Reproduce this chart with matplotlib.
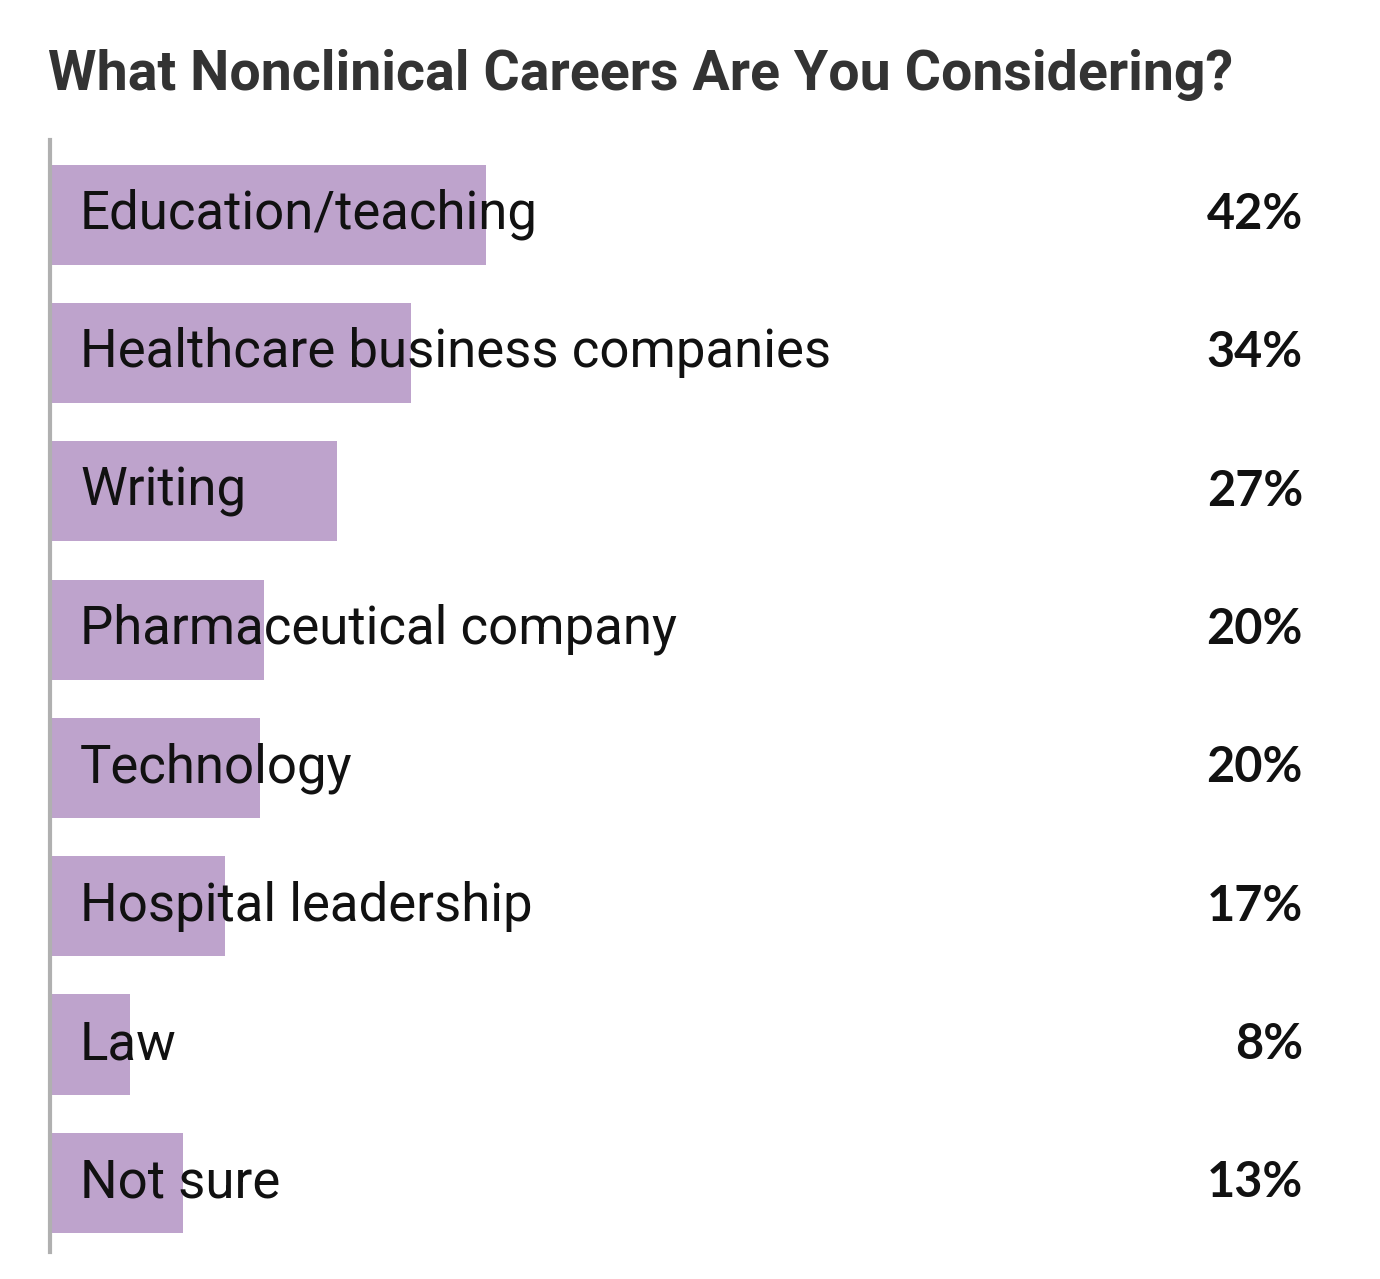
import matplotlib.pyplot as plt
import matplotlib.transforms as mtransforms

categories = ["Education/teaching", "Healthcare business companies", "Writing",
              "Pharmaceutical company", "Technology", "Hospital leadership",
              "Law", "Not sure"]
values = [42, 34, 27, 20, 20, 17, 8, 13]
bar_lengths = [41.5, 34.4, 27.3, 20.4, 20.0, 16.7, 7.6, 12.7]  # as drawn
labels = ["42%", "34%", "27%", "20%", "20%", "17%", "8%", "13%"]

W, H = 1380, 1279
fig = plt.figure(figsize=(W / 100, H / 100), dpi=100)
ax = fig.add_axes([50 / W, 1 - 1252 / H, 1330 / W, (1252 - 140) / H])
ax.barh(range(len(categories)), bar_lengths, height=100 / 138, color="#bea3cc")
ax.set_xlim(0, 1330 / 10.5)
ax.set_ylim(7.5, -0.54)
for s in ["top", "right", "bottom"]:
    ax.spines[s].set_visible(False)
ax.spines["left"].set_color("#b0b0b0")
ax.spines["left"].set_linewidth(3)
ax.set_xticks([])
ax.set_yticks([])

tr = mtransforms.blended_transform_factory(fig.transFigure, ax.transData)
for i, (c, l) in enumerate(zip(categories, labels)):
    ax.text(80 / W, i, c, transform=tr, va="center", ha="left",
            fontsize=38, family="Roboto", color="#111111", fontstretch="condensed")
    ax.text(1303 / W, i, l, transform=tr, va="center", ha="right",
            fontsize=35, family="Lato", fontweight="bold", color="#111111")

fig.text(48 / W, 1 - 75 / H, "What Nonclinical Careers Are You Considering?",
         fontsize=40, family="Roboto", fontweight="bold", color="#333333",
         va="center", ha="left")
fig.savefig("out.png", dpi=100)
